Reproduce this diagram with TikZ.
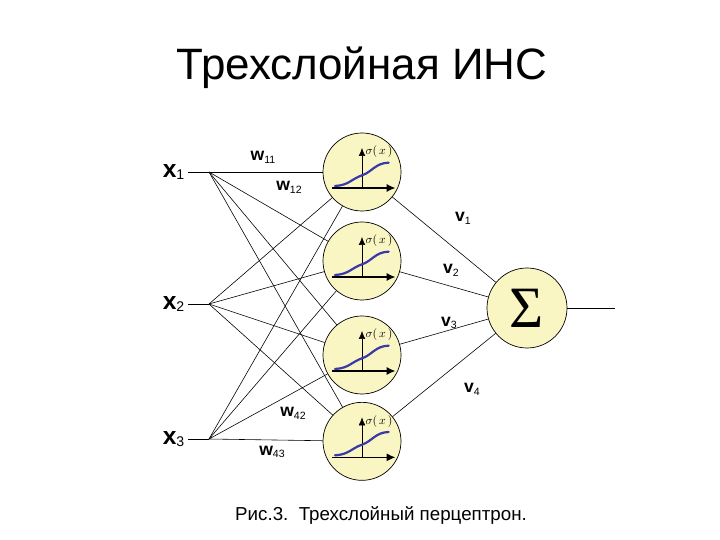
\documentclass[tikz,border=0pt]{standalone}
\usepackage{fontspec}
\setmainfont{Liberation Sans}
\newfontfamily\sigmafont{Liberation Serif}
\usetikzlibrary{arrows.meta,positioning}
\definecolor{cream}{HTML}{FAF6C4}
\definecolor{curve}{HTML}{3A3AA8}
\newcommand\sublab[4]{{\fontsize{#3}{#3}\selectfont\bfseries #1}\raisebox{-0.45ex}{\fontsize{#4}{#4}\selectfont #2}}

\begin{document}
\begin{tikzpicture}[>=Latex,
  neuron/.style={circle,draw,line width=0.6pt,fill=cream,minimum size=2.34cm,inner sep=0pt},
  link/.style={line width=0.5pt},
  inlab/.style={inner sep=3pt,anchor=east},
  wlab/.style={inner sep=0pt},
  sigm/.pic={
    \draw[line width=1pt,-{Latex[length=2.6mm,width=2.4mm]}] (-0.9,-0.48)--(1.0,-0.48);
    \draw[line width=0.5pt,-{Latex[length=2.4mm,width=2mm]}] (0,-0.48)--(0,0.72);
    \draw[curve,line width=1.9pt,line cap=round] (-0.81,-0.42) .. controls (-0.4,-0.4) and (-0.3,-0.2) .. (0,-0.1) .. controls (0.3,0.0) and (0.4,0.27) .. (0.8,0.28);
    \node[font=\normalsize,inner sep=0pt,anchor=west] at (0.1,0.6) {$\sigma(\,x\,)$};
  }]
\useasboundingbox (0,0) rectangle (21.6,16.2);

% titles
\node[anchor=base] (title) at (10.86,13.8) {\fontsize{37.5}{40}\selectfont Трехслойная ИНС};
\node[anchor=base] (caption) at (11.43,0.57) {\fontsize{16}{18}\selectfont Рис.3.\ \ Трехслойный перцептрон.};

% inputs
\node[inlab] (x1) at (5.64,11.04) {\sublab{x}{1}{21}{12}};
\node[inlab] (x2) at (5.64,7.08) {\sublab{x}{2}{21}{12}};
\node[inlab] (x3) at (5.64,3.03) {\sublab{x}{3}{21}{12}};
\coordinate (b1) at (6.27,11.04);
\coordinate (b2) at (6.27,7.08);
\coordinate (b3) at (6.27,3.03);

% hidden layer and output
\node[neuron] (h1) at (10.86,11.04) {};
\node[neuron] (h2) at (10.86,8.37) {};
\node[neuron] (h3) at (10.86,5.55) {};
\node[neuron] (h4) at (10.86,2.96) {};
\node[neuron,minimum size=2.4cm] (sum) at (15.81,6.96) {\sigmafont\fontsize{50}{50}\selectfont Σ};
\coordinate (out) at (18.45,6.96);

\foreach \j in {1,...,4} \pic at (h\j) {sigm};

% connections
\foreach \i in {1,2,3} {
  \draw[line width=0.8pt] (x\i.east) -- (b\i);
  \foreach \j in {1,...,4} \draw[link] (b\i) -- (h\j);
}
\foreach \j in {1,...,4} \draw[link] (h\j) -- (sum);
\draw[link] (sum) -- (out);

% weights
\node[wlab] (w11) at (7.89,11.49) {\sublab{w}{11}{15}{9}};
\node[wlab] (w12) at (8.67,10.59) {\sublab{w}{12}{15}{9}};
\node[wlab] (w42) at (8.79,3.81) {\sublab{w}{42}{15}{9}};
\node[wlab] (w43) at (8.16,2.64) {\sublab{w}{43}{15}{9}};
\node[wlab] (v1) at (13.89,9.66) {\sublab{v}{1}{15}{9}};
\node[wlab] (v2) at (13.53,8.10) {\sublab{v}{2}{15}{9}};
\node[wlab] (v3) at (13.47,6.51) {\sublab{v}{3}{15}{9}};
\node[wlab] (v4) at (14.16,4.53) {\sublab{v}{4}{15}{9}};
\end{tikzpicture}
\end{document}
